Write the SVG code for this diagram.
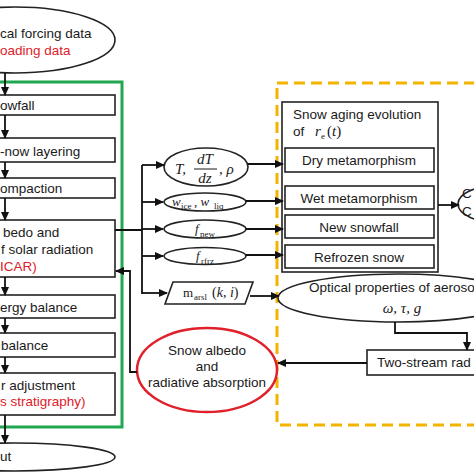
<svg xmlns="http://www.w3.org/2000/svg" width="474" height="474" viewBox="0 0 474 474">
<defs>
<marker id="ah" markerUnits="userSpaceOnUse" markerWidth="9" markerHeight="8" refX="8" refY="4" orient="auto"><path d="M0,0 L9,4 L0,8 z" fill="#111"/></marker>
<style>
.t{font-family:"Liberation Sans",Arial,sans-serif;font-size:13.5px;fill:#1a1a1a}
.r{fill:#e0202a}
.m{font-family:"Liberation Serif","Times New Roman",serif;font-style:italic;font-size:15px;fill:#1a1a1a}
.s{font-family:"Liberation Serif","Times New Roman",serif;font-size:9px;fill:#1a1a1a}
.b{fill:#fff;stroke:#222;stroke-width:1.6}
.c{fill:none;stroke:#111;stroke-width:1.8}
.a{fill:none;stroke:#111;stroke-width:1.8;marker-end:url(#ah)}
</style>
</defs>
<rect width="474" height="474" fill="#fff"/>

<!-- containers -->
<rect x="-10" y="82" width="132" height="345" fill="none" stroke="#1fa84f" stroke-width="3"/>
<rect x="277" y="83" width="210" height="342" fill="none" stroke="#f2b400" stroke-width="3" stroke-dasharray="11 6"/>

<g id="forcing"><ellipse class="b" cx="15" cy="40" rx="100" ry="33"/>
<text class="t" x="0" y="38">cal forcing data</text><text class="t r" x="0" y="55">oading data</text></g>
<g id="snowfall"><rect class="b" x="-10" y="95" width="125" height="20"/><text class="t" x="0" y="110">owfall</text></g>
<g id="layering"><rect class="b" x="-10" y="138" width="125" height="24"/><text class="t" x="0" y="156">-now layering</text></g>
<g id="compaction"><rect class="b" x="-10" y="178" width="125" height="20"/><text class="t" x="0" y="193">ompaction</text></g>
<g id="albedo"><rect class="b" x="-10" y="220" width="125" height="57"/>
<text class="t" x="3" y="237">bedo and</text><text class="t" x="1" y="254">f solar radiation</text><text class="t r" x="0" y="271">ICAR)</text></g>
<g id="energy"><rect class="b" x="-10" y="295" width="125" height="23"/><text class="t" x="0" y="312">ergy balance</text></g>
<g id="mass"><rect class="b" x="-10" y="333" width="125" height="24"/><text class="t" x="1" y="350">balance</text></g>
<g id="adjust"><rect class="b" x="-10" y="373" width="125" height="42"/>
<text class="t" x="1" y="390">r adjustment</text><text class="t r" x="0" y="406">s stratigraphy)</text></g>
<g id="output"><ellipse class="b" cx="15" cy="457" rx="100" ry="14"/><text class="t" x="0" y="461">ut</text></g>

<g id="T"><ellipse class="b" cx="206" cy="167" rx="42" ry="19"/>
<text class="m" x="175" y="174">T,</text><text class="m" x="205" y="164" text-anchor="middle">dT</text>
<line x1="194" y1="169" x2="217" y2="169" stroke="#1a1a1a" stroke-width="1"/>
<text class="m" x="205" y="183" text-anchor="middle">dz</text><text class="m" x="219" y="174">, ρ</text></g>
<g id="w"><ellipse class="b" cx="205" cy="202" rx="41" ry="9"/>
<text class="m" x="172" y="206" style="font-size:13px">w</text><text class="s" x="181" y="209">ice</text>
<text class="m" x="194" y="206" style="font-size:13px">, w</text><text class="s" x="214" y="209">liq</text></g>
<g id="fnew"><ellipse class="b" cx="205" cy="229" rx="41" ry="9"/>
<text class="m" x="195" y="233" style="font-size:13px">f</text><text class="s" x="200" y="237">new</text></g>
<g id="frfrz"><ellipse class="b" cx="205" cy="256" rx="41" ry="8.5"/>
<text class="m" x="196" y="260" style="font-size:13px">f</text><text class="s" x="201" y="264">rfrz</text></g>
<g id="marsl"><polygon class="b" points="173,282 253,282 245,304 165,304"/>
<text class="m" x="183" y="297" style="font-style:normal;font-size:13px">m</text><text class="s" x="194" y="300">arsl</text>
<text class="m" x="212" y="297" style="font-size:14px"><tspan font-style="normal">(</tspan>k<tspan font-style="normal">, </tspan>i<tspan font-style="normal">)</tspan></text></g>

<g id="aging"><rect class="b" x="282" y="102" width="156" height="170"/>
<text class="t" x="293" y="119">Snow aging evolution</text><text class="t" x="293" y="136">of</text>
<text class="m" x="315" y="136">r</text><text class="s" x="321" y="139">e</text><text class="m" x="327" y="136"><tspan font-style="normal">(</tspan>t<tspan font-style="normal">)</tspan></text></g>
<g id="dry"><rect class="b" x="285" y="148" width="149" height="24"/><text class="t" x="359" y="165" text-anchor="middle">Dry metamorphism</text></g>
<g id="wet"><rect class="b" x="285" y="186" width="149" height="23"/><text class="t" x="359" y="203" text-anchor="middle">Wet metamorphism</text></g>
<g id="new"><rect class="b" x="285" y="215" width="149" height="23"/><text class="t" x="359" y="232" text-anchor="middle">New snowfall</text></g>
<g id="refrozen"><rect class="b" x="285" y="245" width="149" height="23"/><text class="t" x="359" y="262" text-anchor="middle">Refrozen snow</text></g>
<g id="grain"><ellipse class="b" cx="500" cy="204" rx="42" ry="19"/><text class="t" x="462" y="198">C</text><text class="t" x="462" y="216">C</text></g>
<g id="optical"><ellipse class="b" cx="398" cy="298" rx="120" ry="24"/>
<text class="t" x="309" y="292">Optical properties of aeroso</text>
<text class="m" x="402" y="313" text-anchor="middle">ω, τ, g</text></g>
<g id="twostream"><rect class="b" x="367" y="350" width="120" height="25"/><text class="t" x="377" y="367">Two-stream rad</text></g>
<g id="snowalbedo"><ellipse cx="207" cy="370" rx="70" ry="42" fill="#fff" stroke="#e0202a" stroke-width="2.5"/>
<text class="t" x="207" y="355" text-anchor="middle">Snow albedo</text><text class="t" x="207" y="371" text-anchor="middle">and</text>
<text class="t" x="207" y="387" text-anchor="middle">radiative absorption</text></g>

<g id="connectors">
<path class="a" d="M5,73 V95"/>
<path class="a" d="M5,115 V138"/>
<path class="a" d="M5,162 V178"/>
<path class="a" d="M5,198 V220"/>
<path class="a" d="M5,277 V295"/>
<path class="a" d="M5,318 V333"/>
<path class="a" d="M5,357 V373"/>
<path class="a" d="M5,415 V443"/>
<path class="c" d="M115,230 H142 M142,165 V294"/>
<path class="a" d="M142,165 H164"/>
<path class="a" d="M142,202 H163"/>
<path class="a" d="M142,229 H163"/>
<path class="a" d="M142,256 H163"/>
<path class="a" d="M142,293 H167"/>
<path class="a" d="M248,164 H283"/>
<path class="a" d="M246,201 H283"/>
<path class="a" d="M246,229 H283"/>
<path class="a" d="M246,255 H283"/>
<path class="a" d="M250,296 H279"/>
<path class="a" d="M438,205 H459"/>
<path class="a" d="M395,322 V333 H467 V350"/>
<path class="a" d="M367,363 H278"/>
<path class="a" d="M137,372 H130 V271 H116"/>
</g>
</svg>
